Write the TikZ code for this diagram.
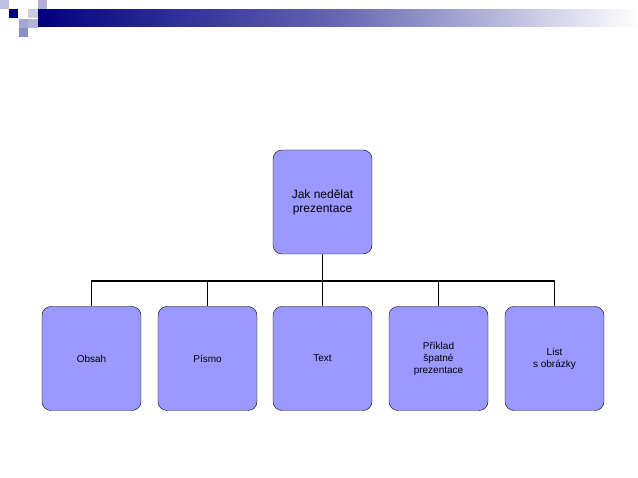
\documentclass[tikz,border=0pt]{standalone}
\usepackage{fontspec}
\setmainfont{Liberation Sans}
\begin{document}
\begin{tikzpicture}[x=1pt,y=-1pt,
  box/.style={draw=black,fill=boxc,rounded corners=9pt,minimum width=99pt,minimum height=104pt,align=center,font=\fontsize{10}{12}\selectfont,inner sep=0pt},
  conn/.style={line width=1.6pt}]
\definecolor{boxc}{HTML}{9999FF}
\definecolor{navy}{HTML}{000080}
\useasboundingbox (0,0) rectangle (638,478);
\shade[left color=navy,right color=white,middle color=navy!60] (38,10) rectangle (638,27);
\fill[navy] (9,9) rectangle (18,18);
\fill[navy!25] (0,0) rectangle (9,9);
\fill[navy!20] (28,9) rectangle (38,18);
\fill[navy!30] (38,0) rectangle (47,9);
\fill[navy!35] (19,19) rectangle (28,28);
\fill[navy!30] (28,19) rectangle (38,28);
\fill[navy!45] (19,28) rectangle (28,37);
\node[box,font=\fontsize{12}{14}\selectfont] (top) at (322.5,202) {Jak nedělat\\ prezentace};
\node[box] (a) at (91.5,358.5) {Obsah};
\node[box] (b) at (207.5,358.5) {Písmo};
\node[box] (c) at (322.5,358.5) {Text};
\node[box] (d) at (438.5,358.5) {Příklad\\špatné\\prezentace};
\node[box] (e) at (554.5,358.5) {List\\s obrázky};
\coordinate (j) at (322.5,281);
\draw[conn] (top.south) -- (j);
\foreach \n in {a,b,c,d,e}{\draw[conn] (\n.north) |- (j);}
\end{tikzpicture}
\end{document}
